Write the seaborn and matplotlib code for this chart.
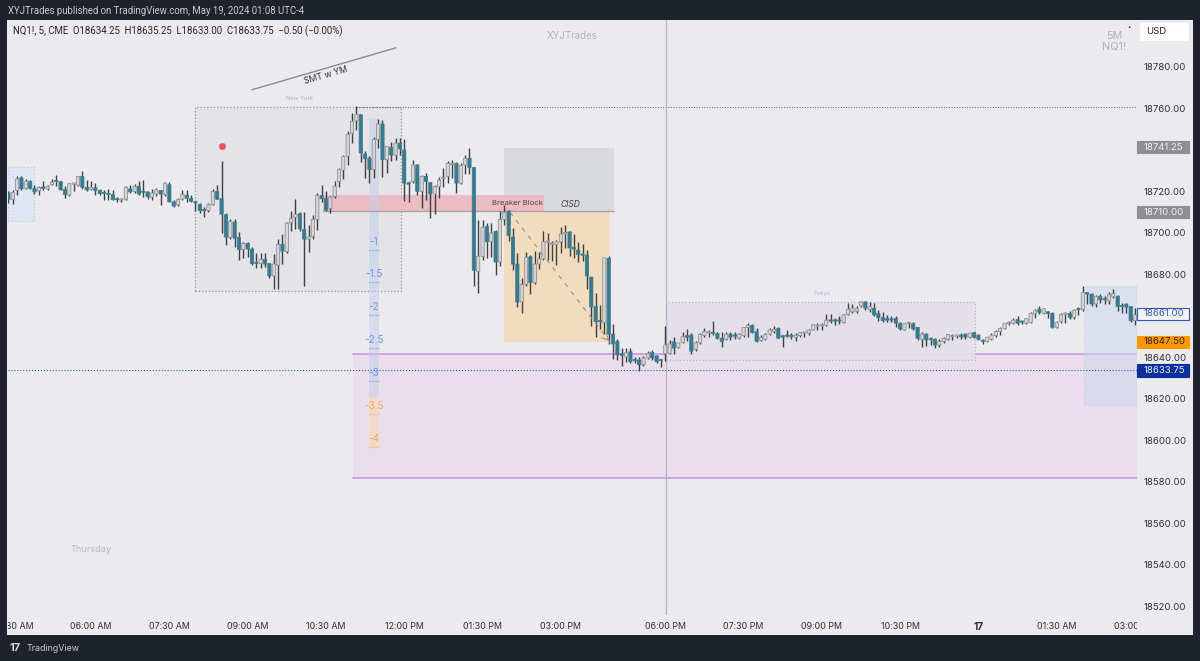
from __future__ import annotations

import matplotlib

matplotlib.use("Agg")

import matplotlib.pyplot as plt
import numpy as np
import pandas as pd
import seaborn as sns
from matplotlib.patches import Rectangle
from matplotlib.transforms import Bbox

# prices below are offsets from 18000
PRICE_BASE = 18000
OPENS = PRICE_BASE + np.array([
    719.25,716.25,720.5,726.5,721.5,724.75,721.5,720.25,722.0,721.25,
    723.25,725.25,724.75,721.0,718.25,723.5,723.0,727.25,722.0,721.0,
    721.75,720.5,719.25,719.0,718.5,716.25,715.75,716.25,721.25,720.0,
    722.5,719.75,719.75,717.25,718.75,720.5,718.5,723.25,715.0,713.5,
    716.25,718.25,716.75,714.75,713.75,711.0,710.75,713.75,720.0,716.5,
    708.75,697.75,705.25,697.75,692.0,695.0,692.25,685.5,685.25,687.25,
    685.25,679.25,684.5,694.5,691.0,705.0,707.5,709.25,701.75,697.0,
    698.25,706.5,718.0,716.5,711.75,717.5,724.75,730.25,737.0,748.0,
    754.0,757.0,738.0,736.0,730.5,745.0,752.5,735.25,741.25,737.5,
    743.25,740.0,724.0,724.75,732.75,720.0,727.25,724.25,718.75,722.25,
    726.25,727.25,733.0,733.5,724.0,732.75,736.0,731.5,681.5,688.75,
    703.0,695.75,700.75,686.0,706.5,710.5,698.0,685.0,666.75,675.25,
    688.5,676.0,685.0,687.5,695.5,694.5,694.5,695.75,699.5,700.5,
    693.0,691.75,689.75,689.25,678.75,664.5,657.5,656.75,687.75,651.25,
    647.75,641.75,640.25,642.75,638.75,638.75,636.5,639.75,642.5,640.75,
    638.75,641.75,642.0,647.5,644.75,647.25,650.5,650.75,643.75,647.0,
    650.5,651.75,652.0,651.5,649.25,648.75,651.25,650.75,649.25,650.5,
    654.5,655.5,652.5,648.25,648.75,651.25,652.5,654.0,650.5,650.75,
    650.75,649.75,650.5,651.75,651.75,653.25,655.0,655.25,655.5,658.0,
    657.75,657.75,656.75,660.75,662.0,662.25,664.75,666.75,663.0,663.75,
    661.25,659.25,658.75,658.25,658.75,656.5,653.25,656.25,656.25,654.5,
    648.75,651.25,648.75,648.75,646.0,647.75,648.75,650.0,650.25,650.75,
    651.25,649.75,652.0,650.75,648.25,647.75,648.75,650.5,652.5,654.0,
    656.25,656.5,658.25,657.25,656.5,656.75,661.0,663.25,661.25,662.0,
    661.25,654.5,657.25,660.75,661.25,659.25,663.5,663.25,671.25,670.5,
    665.75,669.5,668.25,667.25,669.25,669.5,665.0,665.75,664.5,657.75,
])
HIGHS = PRICE_BASE + np.array([
    720.0,720.5,727.25,727.25,726.0,725.5,723.25,722.75,725.25,723.25,
    726.0,728.0,725.25,722.5,724.0,724.25,727.5,730.0,725.5,725.25,
    724.0,721.0,720.5,721.0,720.5,717.5,716.75,722.5,723.25,723.75,
    725.25,725.5,720.25,721.0,721.5,720.75,724.5,724.75,716.0,716.75,
    720.75,720.5,718.5,715.25,714.5,712.5,714.5,721.25,723.25,734.75,
    709.75,706.5,706.5,700.5,695.75,695.75,693.25,690.5,690.5,690.5,
    685.75,690.0,697.0,699.25,705.25,710.75,716.5,710.25,710.25,704.0,
    708.5,719.25,723.25,720.0,718.0,725.25,731.5,737.75,749.0,757.75,
    761.0,757.0,739.25,737.0,746.0,755.0,754.5,742.0,743.75,745.75,
    745.75,745.25,725.0,735.0,733.0,728.0,728.75,724.75,723.25,727.0,
    731.25,734.5,735.25,734.0,733.5,737.5,740.75,732.0,706.25,706.25,
    704.75,704.75,701.5,710.5,713.5,711.25,702.5,690.25,678.5,690.75,
    689.5,691.5,691.0,700.75,700.0,696.0,696.75,702.75,703.75,701.0,
    699.5,695.75,694.5,692.0,678.75,671.25,665.5,688.0,688.75,656.0,
    649.0,644.5,644.5,644.5,640.25,640.25,640.5,643.25,643.75,641.25,
    639.25,655.0,648.25,649.75,647.0,652.5,653.5,651.75,647.75,651.75,
    654.0,653.0,657.75,652.5,652.5,652.5,652.5,652.5,652.0,654.75,
    656.75,656.25,654.0,651.0,651.75,654.0,655.25,654.5,651.0,653.0,
    651.75,651.75,652.5,652.5,653.5,656.0,656.5,656.75,661.0,661.0,
    659.0,659.75,661.0,666.0,665.75,664.75,667.0,667.0,666.5,666.0,
    662.75,661.75,660.5,660.0,659.75,657.25,656.75,657.25,657.0,654.75,
    652.5,652.0,650.0,649.25,648.75,649.75,651.25,651.25,651.0,652.0,
    652.0,652.0,652.25,651.25,648.75,650.0,651.75,653.0,654.75,656.75,
    657.75,659.0,659.75,657.75,659.25,661.75,663.25,664.75,664.0,662.5,
    662.0,657.75,661.25,661.75,662.5,663.25,664.25,674.25,671.5,671.25,
    670.0,670.5,669.5,671.75,672.75,670.0,666.0,666.0,664.75,663.75,
])
LOWS = PRICE_BASE + np.array([
    714.5,714.0,718.5,720.75,721.25,721.25,718.75,718.5,720.75,720.5,
    723.25,722.5,720.5,716.75,718.0,720.0,722.75,721.0,720.0,720.5,
    718.5,718.5,716.0,716.0,715.75,715.0,714.75,716.0,719.25,719.25,
    718.5,717.5,716.25,715.75,718.0,713.5,718.0,714.75,712.5,712.75,
    715.75,715.0,715.0,710.5,709.75,707.5,710.25,713.25,716.25,700.0,
    694.25,697.0,693.25,686.75,687.75,688.5,684.5,683.0,683.25,683.75,
    678.5,672.75,672.75,685.0,690.5,701.0,701.75,700.75,674.25,690.75,
    697.0,701.25,715.0,710.75,709.75,717.0,722.25,725.75,732.5,743.25,
    749.75,734.25,726.25,724.0,726.25,741.0,726.75,729.0,734.5,735.25,
    737.75,715.25,715.0,724.0,718.5,712.25,716.0,707.25,709.25,717.0,
    722.25,724.0,726.5,719.25,723.5,728.25,728.25,674.25,671.25,687.0,
    687.75,688.25,679.75,684.0,704.0,696.0,682.0,664.25,661.5,674.5,
    670.75,675.25,682.75,687.0,687.0,686.5,684.75,690.25,692.75,688.75,
    688.0,686.0,686.25,672.75,655.25,650.0,653.75,651.25,646.5,639.25,
    639.0,635.75,638.0,637.25,637.25,633.25,636.0,639.25,639.0,637.5,
    635.5,638.5,641.75,641.75,644.5,647.0,647.75,641.75,643.25,646.5,
    650.0,649.75,651.0,648.75,645.25,648.25,648.5,648.75,648.75,650.0,
    650.0,651.75,647.25,647.75,648.5,651.0,651.75,649.25,645.25,649.75,
    648.75,647.75,649.75,650.0,650.75,653.0,653.0,653.25,655.25,656.5,
    655.75,656.25,656.5,660.5,661.5,661.5,664.5,662.75,662.0,660.0,
    657.75,657.25,657.25,657.25,654.75,653.0,653.0,654.0,653.25,648.5,
    645.25,645.5,646.0,644.5,645.25,647.0,648.5,648.25,649.25,648.75,
    649.0,649.25,649.25,648.25,646.5,647.25,648.5,650.0,651.0,653.75,
    655.5,656.25,655.5,656.25,656.0,656.5,659.0,661.0,660.75,659.0,
    654.0,654.0,656.75,656.5,658.75,658.75,660.5,662.5,665.75,664.75,
    664.5,666.0,665.75,665.75,668.75,662.5,661.25,661.25,657.25,655.75,
])
CLOSES = PRICE_BASE + np.array([
    716.0,719.5,726.0,721.25,724.75,721.5,719.75,722.0,721.5,722.5,
    724.5,724.75,720.75,718.5,723.75,724.0,727.25,722.0,720.75,722.0,
    720.5,719.0,719.0,718.5,716.0,716.0,716.25,722.0,719.75,722.5,
    718.75,719.5,717.5,719.25,720.75,718.75,724.0,715.0,713.0,716.0,
    718.5,716.75,715.25,714.5,710.75,710.75,713.75,720.0,716.25,709.0,
    698.0,705.5,697.5,692.0,695.0,692.25,685.25,685.25,687.25,685.0,
    679.25,685.0,694.5,691.25,704.75,707.0,709.0,702.0,697.0,698.25,
    706.5,718.0,716.5,711.0,717.25,722.5,730.5,736.75,747.5,753.75,
    757.0,738.5,735.75,730.5,745.0,752.5,735.25,741.75,737.5,743.25,
    740.5,724.0,723.5,732.75,720.0,727.25,724.75,718.75,722.25,725.5,
    726.75,733.5,733.5,724.0,732.5,736.0,731.5,682.0,688.75,702.75,
    695.75,700.0,686.0,706.5,710.0,698.75,685.0,666.75,675.25,688.25,
    676.0,685.0,687.5,695.75,695.75,694.75,695.75,699.5,700.25,692.75,
    692.25,689.5,689.25,679.25,664.25,657.25,657.25,688.0,651.25,646.5,
    641.25,641.0,642.25,638.0,638.5,636.5,639.75,642.0,639.75,638.0,
    638.5,646.0,646.5,644.5,647.0,650.0,649.75,643.0,647.0,651.0,
    652.5,652.0,651.5,649.25,647.75,651.25,649.75,650.25,651.25,654.5,
    655.5,652.0,647.75,649.75,651.0,653.25,653.5,649.25,649.75,650.25,
    650.0,650.75,652.0,652.0,653.25,655.75,655.25,655.5,658.0,657.5,
    657.5,657.5,660.5,663.25,663.75,663.5,666.75,663.75,664.5,660.5,
    659.25,657.75,658.0,658.0,656.5,653.75,656.25,656.5,653.75,649.25,
    651.25,648.5,648.5,646.0,647.75,649.25,651.0,650.5,650.5,650.0,
    649.75,651.75,649.75,648.75,647.75,649.75,650.75,652.5,654.0,656.5,
    656.5,658.0,656.5,657.0,658.75,661.25,662.5,661.75,663.5,661.25,
    654.5,656.75,660.75,661.0,659.25,662.75,663.0,671.25,670.5,665.75,
    669.25,667.75,667.75,670.5,670.75,664.5,664.5,664.25,657.75,660.5,
])

PRICE_TICKS = [18780, 18760, 18720, 18700, 18680, 18640, 18620, 18600, 18580, 18560, 18540, 18520]
TIME_TICK_BARS = [1, 19, 37, 55, 73, 91, 109, 127, 151, 169, 187, 205, 223, 241, 259]
TIME_TICK_LABELS = [
    "04:30 AM", "06:00 AM", "07:30 AM", "09:00 AM", "10:30 AM", "12:00 PM", "01:30 PM", "03:00 PM",
    "06:00 PM", "07:30 PM", "09:00 PM", "10:30 PM", "17", "01:30 AM", "03:00 AM",
]
FIB_LABELS = ["-1", "-1.5", "-2", "-2.5", "-3", "-3.5", "-4"]
FIB_LABEL_PRICES = [18695.7, 18680.2, 18664.3, 18648.4, 18632.5, 18616.6, 18600.7]
FIB_LINE_PRICES = [18691.8, 18676.4, 18660.5, 18644.6, 18628.7, 18612.8, 18597.0]
FIB_COLORS = ["#6f93f5"] * 5 + ["#f5a857"] * 2

DARK = "#1e222d"
PANEL = "#ebebed"
TEAL = "#3a7a8e"
UP_FILL = "#d6d6d8"
UP_EDGE = "#8a8a8e"
WICK = "#3f3f42"
FONT = ["Inter", "DejaVu Sans"]
HEAD_FONT = ["Roboto", "DejaVu Sans"]

W, H = 1200, 661


def box(ax, x0, x1, y0, y1, fill, edge=None, zorder=1, alpha=None):
    ax.add_patch(Rectangle(
        (x0, y0), x1 - x0, y1 - y0, facecolor=fill, edgecolor=edge or "none",
        linewidth=0.9 if edge else 0, linestyle=":" if edge else "-", zorder=zorder, alpha=alpha,
    ))


def price_tag(ax, price, text, fill, color, edge=None):
    ax.add_patch(Rectangle(
        (1.0, price - 2.96), 52 / 1129, 5.92, transform=ax.get_yaxis_transform(), clip_on=False,
        facecolor=fill, edgecolor=edge or fill, linewidth=0.8, zorder=6,
    ))
    ax.text(1 + 7 / 1129, price, text, transform=ax.get_yaxis_transform(), clip_on=False,
            color=color, fontsize=6.9, va="center", ha="left", zorder=7)


def draw_candles(ax):
    bars = np.arange(len(OPENS))
    wicks = pd.concat([
        pd.DataFrame({"bar": bars, "price": LOWS}),
        pd.DataFrame({"bar": bars, "price": HIGHS}),
    ])
    sns.lineplot(data=wicks, x="bar", y="price", units="bar", estimator=None, color=WICK,
                 linewidth=1.0, solid_capstyle="butt", ax=ax, zorder=4, legend=False)

    bodies = pd.DataFrame({
        "bar": bars,
        "height": np.maximum(np.abs(CLOSES - OPENS), 0.6),
        "bottom": np.minimum(OPENS, CLOSES),
        "up": CLOSES >= OPENS,
    })
    for is_up, fill, edge in [(True, UP_FILL, UP_EDGE), (False, TEAL, TEAL)]:
        part = bodies[bodies["up"] == is_up]
        rects = ax.bar(part["bar"], part["height"], bottom=part["bottom"], width=0.74,
                       color=fill, edgecolor=edge, linewidth=0.55, zorder=5)
        for rect in rects:
            rect.set_snap(False)


def main() -> None:
    sns.set_theme(style="white")
    plt.rcParams["font.family"] = FONT

    fig = plt.figure(figsize=(W / 100, H / 100), dpi=100, facecolor=DARK)
    fig.add_artist(Rectangle((7 / W, 1 - 635 / H), 1186 / W, 615 / H, transform=fig.transFigure,
                             facecolor=PANEL, edgecolor="none", zorder=-5))
    ax = fig.add_axes([8 / W, 1 - 615 / H, 1129 / W, 595 / H])
    ax.set_facecolor("none")

    # zones under the candles
    box(ax, -0.1, 6.0, 18705.75, 18731.75, "#dfe5f1", "#bccbe8", 1)
    box(ax, 43, 90.2, 18672.0, 18760.5, "#e4e4e8", "#8f8f93", 1)
    box(ax, 79.2, 259.45, 18581.9, 18641.7, "#eadeec", None, 1)
    ax.plot([79.2, 259.45], [18641.7, 18641.7], color="#c98fd9", lw=1.1, zorder=2)
    ax.plot([79.2, 259.45], [18581.9, 18581.9], color="#c98fd9", lw=1.1, zorder=2)
    box(ax, 151.2, 222.2, 18638.8, 18666.7, "#e3e0ea", "#b3a6e6", 2, alpha=0.95)
    box(ax, 247.3, 259.45, 18617.0, 18674.4, "#ccd8ee", "#b5c6e8", 2, alpha=0.55)
    box(ax, 113.9, 139.2, 18710.6, 18741.0, "#d9dade", None, 2)
    box(ax, 113.9, 138.4, 18647.5, 18710.4, "#f1dcbe", None, 2)
    box(ax, 72.3, 123.1, 18710.5, 18718.4, "#ecbcc4", None, 3)
    box(ax, 82.9, 85.2, 18621.0, 18755.5, "#c6cfe8", None, 3, alpha=0.5)
    box(ax, 82.9, 85.2, 18597.0, 18621.0, "#f3d9bc", None, 3, alpha=0.7)

    ax.plot([72.3, 139.2], [18710.4, 18710.4], color="#a2a2a6", lw=0.9, zorder=3)
    ax.plot([80, 259.45], [18760.5, 18760.5], color="#55555a", lw=0.7, ls=":", zorder=3)
    ax.plot([-0.1, 259.45], [18633.75, 18633.75], color="#3557ad", lw=0.8, ls=":", zorder=3)
    ax.plot([151.2, 151.2], [18515.9, 18802.6], color="#b5b5b8", lw=0.9, zorder=3)

    draw_candles(ax)

    # drawings on top
    ax.plot([115.3, 138.3], [18710.0, 18647.5], color="#8e8e8e", lw=0.8, ls=(0, (4, 5)), zorder=6)
    ax.annotate("", xy=(138.6, 18647.0), xytext=(137.2, 18650.0),
                arrowprops=dict(arrowstyle="->", color="#8e8e8e", lw=0.7), zorder=6)
    ax.plot([56, 89.1], [18769.0, 18789.2], color="#8a8a95", lw=1.0, zorder=6)
    ax.text(73, 18775.9, "SMT w YM", rotation=16, ha="center", va="center", fontsize=6.3, color="#333336", zorder=7)
    ax.text(67, 18765.0, "New York", ha="center", va="center", fontsize=4.2, color="#aeaeb2", zorder=7)
    ax.text(187, 18671.0, "Tokyo", ha="center", va="center", fontsize=4.2, color="#b5a8e6", zorder=7)
    sns.scatterplot(x=[49], y=[18741.9], color="#ef5350", s=22, edgecolor="#d07070", linewidth=0.4, ax=ax, zorder=7, legend=False)
    ax.text(117, 18714.5, "Breaker Block", ha="center", va="center", fontsize=5.6, color="#4d4548", zorder=7)
    ax.text(129.3, 18713.5, "CISD", ha="center", va="center", fontsize=6.1, style="italic", color="#444448", zorder=7)
    ax.text(19, 18547.7, "Thursday", ha="center", va="center", fontsize=6.6, color="#b9b9bd", zorder=7)
    for label, label_price, line_price, color in zip(FIB_LABELS, FIB_LABEL_PRICES, FIB_LINE_PRICES, FIB_COLORS):
        ax.text(84, label_price, label, ha="center", va="center", fontsize=7.2, color=color, zorder=7)
        ax.plot([82.9, 85.2], [line_price, line_price], color=color, lw=0.9, ls=(0, (1, 1.4)), zorder=6)

    ax.set_xlim(-0.09, 259.45)
    ax.set_ylim(18515.9, 18802.6)
    for spine in ax.spines.values():
        spine.set_visible(False)
    ax.set_xlabel("")
    ax.set_ylabel("")

    ax.yaxis.tick_right()
    ax.set_yticks(PRICE_TICKS)
    ax.set_yticklabels([f"{p:.2f}" for p in PRICE_TICKS])
    ax.tick_params(axis="y", length=0, pad=5, labelsize=6.9, labelcolor="#2f2f33", right=False, left=False)
    ax.set_xticks(TIME_TICK_BARS)
    ax.set_xticklabels(TIME_TICK_LABELS)
    ax.tick_params(axis="x", length=0, pad=5, labelsize=6.4, labelcolor="#2f2f33")
    # labels at both ends are cut by the time scale, like in the original
    scale_clip = Bbox([[8, 0], [1137, H]])
    for lbl in ax.get_xticklabels():
        lbl.set_clip_on(True)
        lbl.set_clip_box(scale_clip)
        if lbl.get_text() == "17":
            lbl.set_fontweight("bold")
            lbl.set_fontsize(7.2)

    price_tag(ax, 18741.25, "18741.25", "#8e8e94", "#f2f2f2")
    price_tag(ax, 18710.0, "18710.00", "#8e8e94", "#f2f2f2")
    price_tag(ax, 18661.0, "18661.00", "#f2f3f7", "#3557ad", edge="#3557ad")
    price_tag(ax, 18647.5, "18647.50", "#ff9800", "#2a2218")
    price_tag(ax, 18633.75, "18633.75", "#0d2f9e", "#eef0f8")

    def fig_text(x, y, text, **kw):
        fig.text(x / W, 1 - y / H, text, va="center", **kw)

    fig_text(8, 11, "XYJTrades published on TradingView.com, May 19, 2024 01:08 UTC-4", fontsize=6.9, color="#c9cbd1", family=HEAD_FONT)
    fig_text(13, 31.5, "NQ1!, 5, CME  O18634.25  H18635.25  L18633.00  C18633.75  −0.50 (−0.00%)", fontsize=6.9, color="#26262a", family=HEAD_FONT)
    fig_text(572, 36, "XYJTrades", fontsize=7.0, color="#b3b3b7", ha="center")
    fig_text(1114, 36, "5M", fontsize=7.8, color="#b3b3b7", ha="center")
    fig_text(1114, 46.5, "NQ1!", fontsize=7.8, color="#b3b3b7", ha="center")
    fig.add_artist(Rectangle((1140 / W, 1 - 41 / H), 49 / W, 18 / H, transform=fig.transFigure,
                             facecolor="white", edgecolor="none"))
    fig_text(1146, 32, "USD", fontsize=6.9, color="#26262a")
    fig_text(1129, 27, "•", fontsize=4, color="#222222", ha="center")
    fig_text(9, 648, "17", fontsize=8, fontweight="bold", color="#d4d6dc")
    fig_text(27, 648.5, "TradingView", fontsize=6.4, color="#c9cbd1")

    fig.savefig("out.png", dpi=100, facecolor=fig.get_facecolor())
    plt.close(fig)


if __name__ == "__main__":
    main()
